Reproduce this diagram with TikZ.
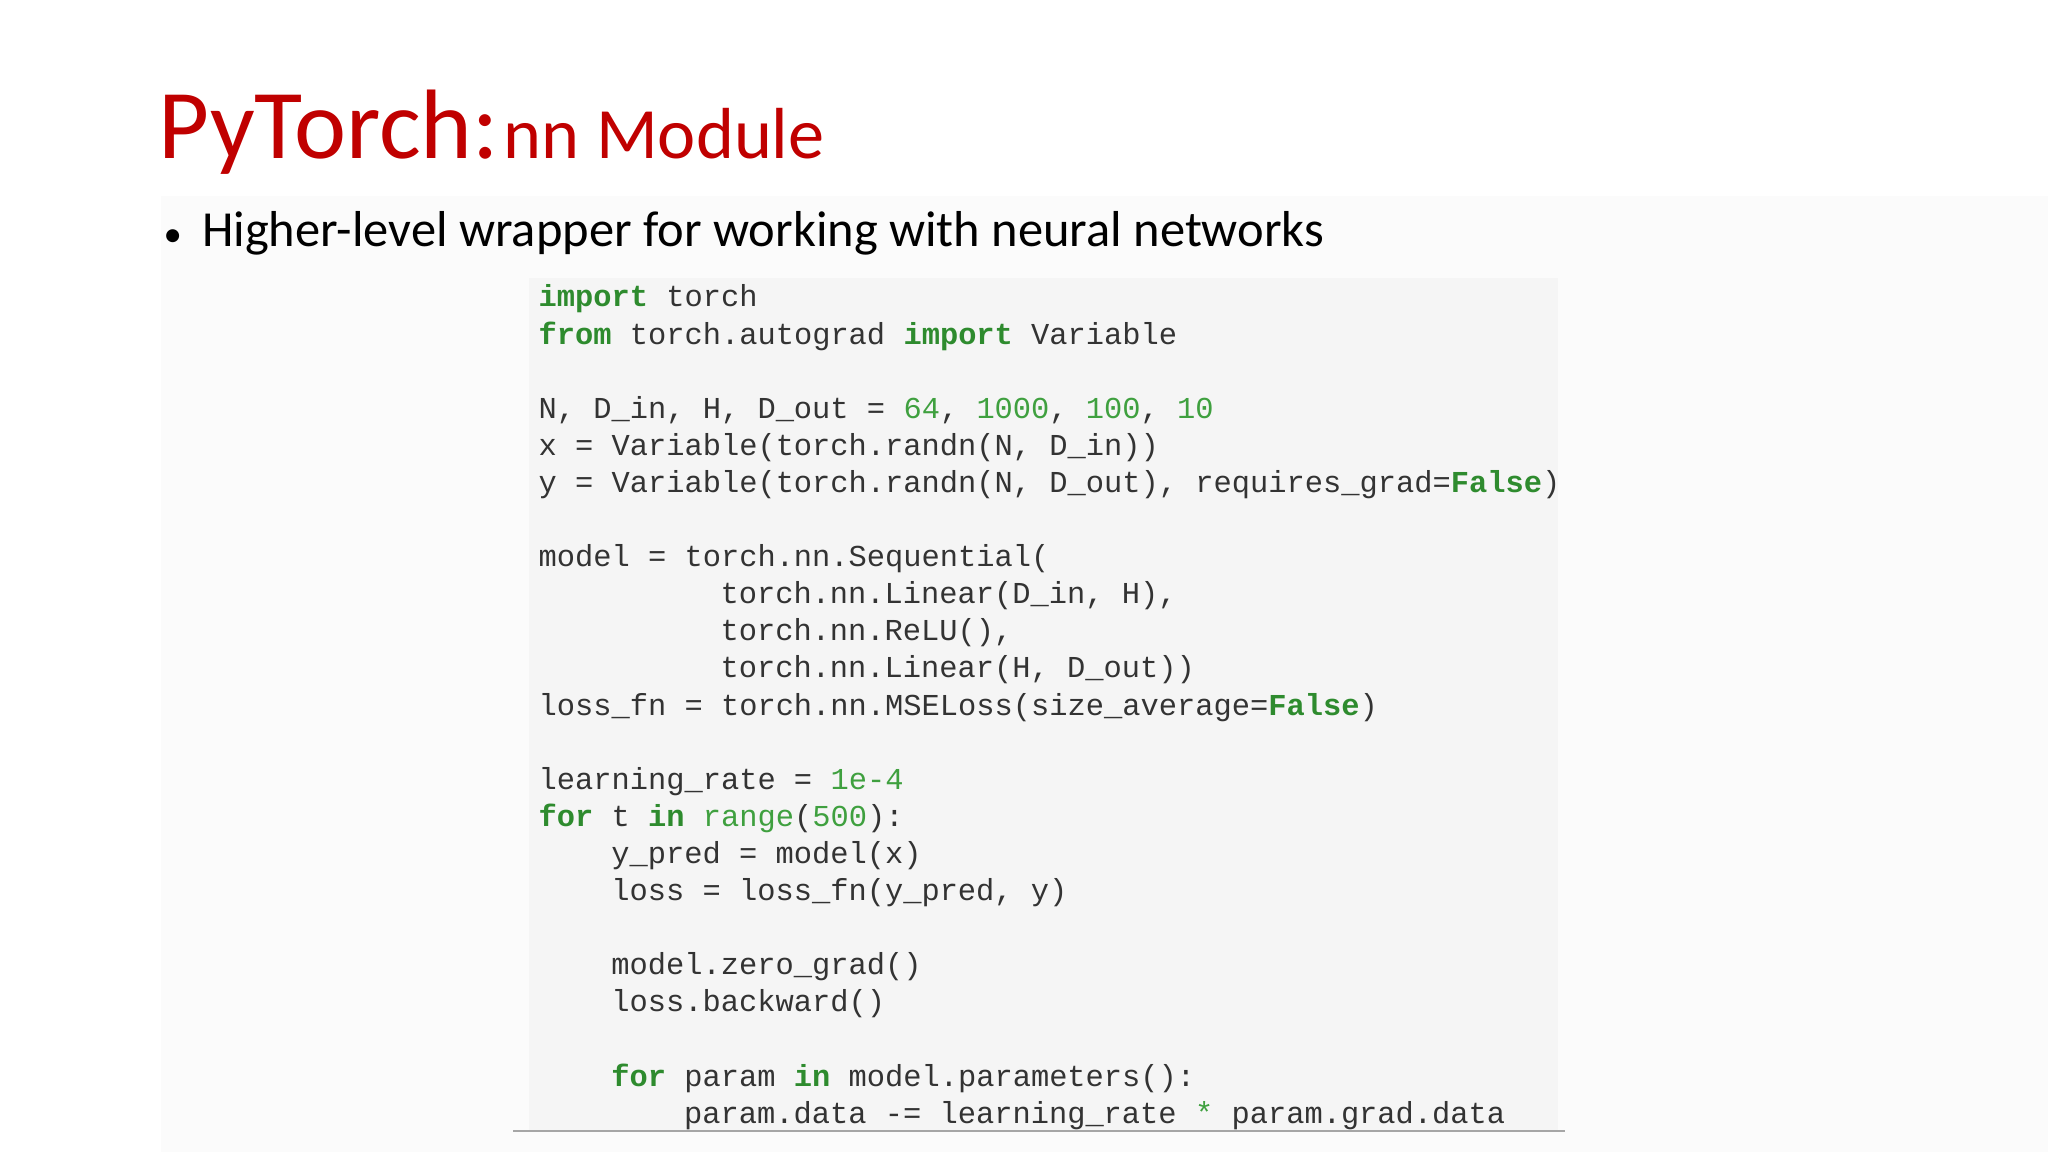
\documentclass[tikz,border=0pt]{standalone}
\usepackage{fontspec}
\setmainfont{Carlito}
\newfontfamily\cm{Liberation Mono}
\definecolor{kw}{HTML}{2E8B2E}
\definecolor{nm}{HTML}{3FA03F}
\definecolor{tx}{HTML}{333333}
\definecolor{ttl}{HTML}{C00000}
\newcommand{\K}[1]{\textcolor{kw}{\bfseries #1}}
\newcommand{\Nm}[1]{\textcolor{nm}{#1}}
\begin{document}
\begin{tikzpicture}[x=0.02cm,y=-0.02cm,
  cl/.style={anchor=west,inner sep=0,font=\cm\fontsize{13.25}{14}\selectfont,text=tx}]
\useasboundingbox (0,0) rectangle (1568,882);
\fill[gray!3] (123,150) rectangle (1568,882);
\fill[gray!8] (405,213) rectangle (1193,866);
\draw[gray!70,line width=0.8pt] (393,866) -- (1198,866);
\node[anchor=base west,inner sep=0,text=ttl] (title) at (121,121)
  {\fontsize{43}{46}\selectfont PyTorch:\hspace{0.05em}\fontsize{31.5}{35}\selectfont nn Module};
\node[anchor=base west,inner sep=0,text=black] (bul) at (125,189)
  {\fontsize{22}{25}\selectfont {\fontsize{16}{18}\selectfont\textbullet}\hspace{0.4em}Higher-level wrapper for working with neural networks};
\def\lx{412}\def\cw{13.93}
\newcommand{\cl}[4]{\node[cl] (#1) at ({\lx+\cw*#3},{229+28.4*#2}) {#4};}
\cl{l0}{0}{0}{\K{import} torch}
\cl{l1}{1}{0}{\K{from} torch.autograd \K{import} Variable}
\cl{l3}{3}{0}{N, D\_in, H, D\_out = \Nm{64}, \Nm{1000}, \Nm{100}, \Nm{10}}
\cl{l4}{4}{0}{x = Variable(torch.randn(N, D\_in))}
\cl{l5}{5}{0}{y = Variable(torch.randn(N, D\_out), requires\_grad=\K{False})}
\cl{l7}{7}{0}{model = torch.nn.Sequential(}
\cl{l8}{8}{10}{torch.nn.Linear(D\_in, H),}
\cl{l9}{9}{10}{torch.nn.ReLU(),}
\cl{l10}{10}{10}{torch.nn.Linear(H, D\_out))}
\cl{l11}{11}{0}{loss\_fn = torch.nn.MSELoss(size\_average=\K{False})}
\cl{l13}{13}{0}{learning\_rate = \Nm{1e-4}}
\cl{l14}{14}{0}{\K{for} t \K{in} \Nm{range}(\Nm{500}):}
\cl{l15}{15}{4}{y\_pred = model(x)}
\cl{l16}{16}{4}{loss = loss\_fn(y\_pred, y)}
\cl{l18}{18}{4}{model.zero\_grad()}
\cl{l19}{19}{4}{loss.backward()}
\cl{l21}{21}{4}{\K{for} param \K{in} model.parameters():}
\cl{l22}{22}{8}{param.data -= learning\_rate \Nm{*} param.grad.data}
\end{tikzpicture}
\end{document}
